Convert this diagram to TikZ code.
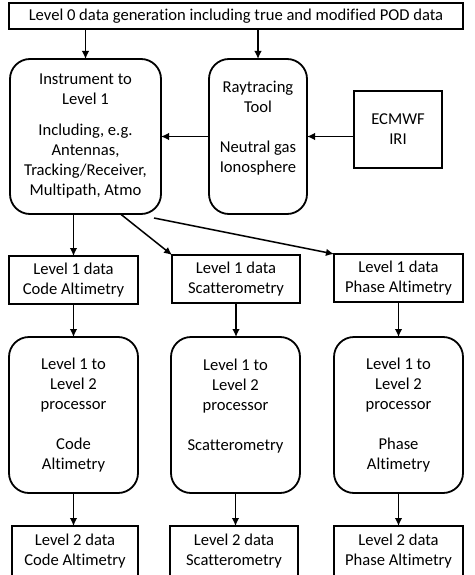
\documentclass[tikz,border=0pt]{standalone}
\usepackage{fontspec}
\setmainfont[Ligatures=NoCommon]{Carlito}
\usetikzlibrary{arrows.meta,calc}
\newcommand{\fs}{\fontsize{16.6pt}{20pt}\selectfont}
\tikzset{
  box/.style={draw, line width=1.8pt, inner sep=0pt, outer sep=0pt, align=center, font=\fs},
  rbox/.style={box, rounded corners=20pt},
  arr/.style={-{Latex[length=8pt,width=7.5pt]}, line width=1.5pt},
}
\begin{document}
\begin{tikzpicture}[x=1pt,y=-1pt]
\useasboundingbox (0,0) rectangle (474,575);
% top
\node[box, minimum width=454pt, minimum height=26pt] (top) at (236,16) {Level 0 data generation including true and modified POD data};
% second row
\node[rbox, minimum width=151pt, minimum height=155pt] (instr) at (85.5,136.5)
  {Instrument to\\Level 1\\[11pt]Including, e.g.\\Antennas,\\Tracking/Receiver,\\Multipath, Atmo};
\node[rbox, minimum width=98pt, minimum height=155pt] (ray) at (258,136.5)
  {Raytracing\\Tool\\[20pt]Neutral gas\\Ionosphere\\\mbox{}};
\node[box, minimum width=88pt, minimum height=77pt] (ecmwf) at (398,129.5) {ECMWF\\IRI};
% level 1 data
\node[box, minimum width=129pt, minimum height=48pt] (l1a) at (73.5,280) {Level 1 data\\Code Altimetry};
\node[box, minimum width=128pt, minimum height=48pt] (l1b) at (236,279) {Level 1 data\\Scatterometry};
\node[box, minimum width=129pt, minimum height=48pt] (l1c) at (398.5,278) {Level 1 data\\Phase Altimetry};
% processors
\node[rbox, minimum width=129pt, minimum height=156pt] (pa) at (73.5,415) {Level 1 to\\Level 2\\processor\\[20pt]Code\\Altimetry};
\node[rbox, minimum width=129pt, minimum height=156pt] (pb) at (235.5,415) {Level 1 to\\Level 2\\processor\\[20pt]Scatterometry\\\mbox{}};
\node[rbox, minimum width=129pt, minimum height=156pt] (pc) at (398.5,415) {Level 1 to\\Level 2\\processor\\[20pt]Phase\\Altimetry};
% level 2 data
\node[box, minimum width=126pt, minimum height=50pt] (l2a) at (75,551) {Level 2 data\\Code Altimetry};
\node[box, minimum width=128pt, minimum height=50pt] (l2b) at (234,551) {Level 2 data\\Scatterometry};
\node[box, minimum width=129pt, minimum height=50pt] (l2c) at (398.5,551) {Level 2 data\\Phase Altimetry};
% connectors
\draw[arr] (instr.north |- top.south) -- (instr.north);
\draw[arr] (ray.north |- top.south) -- (ray.north);
\draw[arr] (ray.west) -- (instr.east);
\draw[arr] (ecmwf.west |- ray.east) -- (ray.east);
\draw[arr] (instr.south -| l1a.north) -- (l1a.north);
\draw[arr] ([xshift=35pt]instr.south) -- (l1b.north west);
\draw[arr] ([xshift=-7pt,yshift=-4pt]instr.south east) -- (l1c.north west);
\draw[arr] (l1a.south) -- (pa.north);
\draw[arr] (l1b.south) -- (l1b.south |- pb.north);
\draw[arr] (l1c.south) -- (pc.north);
\draw[arr] (pa.south) -- (pa.south |- l2a.north);
\draw[arr] (pb.south) -- (pb.south |- l2b.north);
\draw[arr] (pc.south) -- (pc.south |- l2c.north);
\end{tikzpicture}
\end{document}
